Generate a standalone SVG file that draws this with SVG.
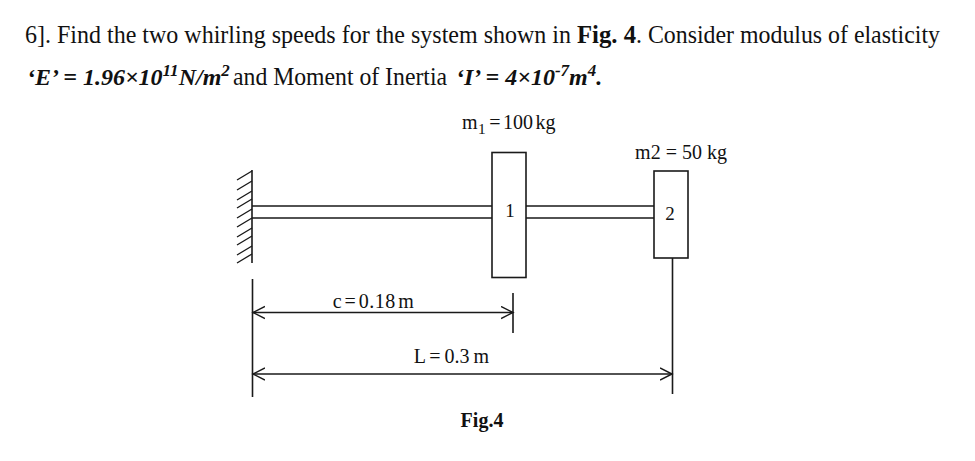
<svg xmlns="http://www.w3.org/2000/svg" width="975" height="461" viewBox="0 0 975 461">
<style>
text{font-family:"Liberation Serif","Times New Roman",serif;fill:#111}
.h{font-size:24.400px}
.e{font-size:24px}
.l{font-size:20px}
.n{font-size:19px}
.b{font-weight:bold}
.i{font-weight:bold;font-style:italic}
.u{font-size:17px}
.s{stroke:#1a1a1a;stroke-width:1.6;fill:none}
.t{stroke:#1a1a1a;stroke-width:1.4;fill:none}
.box{stroke:#1a1a1a;stroke-width:1.6;fill:#fff}
</style>
<defs>
<marker id="a" markerWidth="14" markerHeight="16" refX="12" refY="7" orient="auto-start-reverse" markerUnits="userSpaceOnUse"><path d="M0 1L12 7L0 13" fill="none" stroke="#1a1a1a" stroke-width="1.5"/></marker>
</defs>
<rect width="975" height="461" fill="#fff"/>
<g id="statement">
<text class="h" x="25" y="43" textLength="546" lengthAdjust="spacingAndGlyphs">6]. Find the two whirling speeds for the system shown in</text>
<text class="h b" x="577" y="43" textLength="59" lengthAdjust="spacingAndGlyphs">Fig. 4</text>
<text class="h" x="636" y="43" textLength="304" lengthAdjust="spacingAndGlyphs">. Consider modulus of elasticity</text>
<text class="e" y="85"><tspan class="i" x="27">‘E’ = 1.96×10</tspan><tspan class="i u" dy="-9">11</tspan><tspan class="i" dy="9">N/m</tspan><tspan class="i u" dy="-9">2</tspan></text>
<text class="h" x="233" y="85" textLength="214" lengthAdjust="spacingAndGlyphs">and Moment of Inertia</text>
<text class="e" y="85"><tspan class="i" x="456">‘I’ = 4×10</tspan><tspan class="i u" dy="-9">-7</tspan><tspan class="i" dy="9">m</tspan><tspan class="i u" dy="-9">4</tspan><tspan class="i" dy="9">.</tspan></text>
</g>
<g id="connectors">
<path class="s" d="M252 206H492M252 218H492M526 206H654M526 218H654"/>
<path class="s" d="M672.500 258V394M252.500 279V397M513 293V333"/>
<path class="s" d="M253 312.500H513" marker-start="url(#a)" marker-end="url(#a)"/>
<path class="s" d="M253 374H672" marker-start="url(#a)" marker-end="url(#a)"/>
</g>
<g id="wall">
<path class="s" d="M252 170V263"/>
<path class="t" d="M252 171L237 180M252 181L237 190M252 191L237 200M252 199L237 208M252 209L237 218M252 218L237 227M252 228L237 237M252 236L237 245M252 246L237 255M252 254L237 263"/>
</g>
<g id="mass1">
<rect class="box" x="492" y="152.500" width="34" height="125"/>
<text class="n" x="510" y="216.500" text-anchor="middle">1</text>
<text class="l" x="462" y="129" word-spacing="-2.500">m<tspan font-size="26">₁</tspan> = 100 kg</text>
</g>
<g id="mass2">
<rect class="box" x="654" y="171" width="34" height="87"/>
<text class="n" x="670" y="220" text-anchor="middle">2</text>
<text class="l" x="681" y="159" text-anchor="middle">m2 = 50 kg</text>
</g>
<g id="labels">
<text class="l" x="373.500" y="308" text-anchor="middle" word-spacing="-3" letter-spacing="0.500">c = 0.18 m</text>
<text class="l" x="451.500" y="363" text-anchor="middle" word-spacing="-1">L = 0.3 m</text>
<text class="l b" x="482" y="427" text-anchor="middle">Fig.4</text>
</g>
</svg>
